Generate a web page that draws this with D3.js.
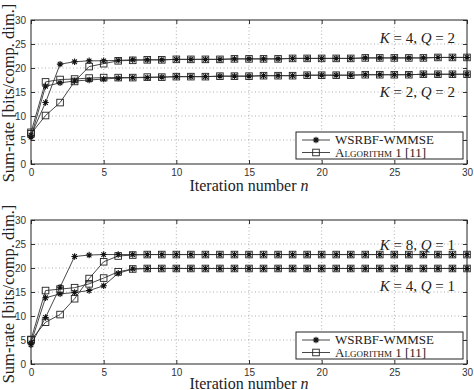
<!DOCTYPE html>
<html><head><meta charset="utf-8">
<script src="https://cdn.jsdelivr.net/npm/d3@7"></script>
<style>body{margin:0;background:#fff}svg{display:block}</style>
</head><body>
<script>
const iterations = d3.range(0, 31);
const xTicks = [0,5,10,15,20,25,30];
const yTicks = [0,5,10,15,20,25,30];
const seriesNames = ["WSRBF-WMMSE", "Algorithm 1 [11]"];
// Top panel
const topUpperWSRBF = [6.0,12.8,20.8,21.3,21.5,21.5,21.6,21.7,21.7,21.7,21.8,21.8,21.8,21.8,21.9,21.9,21.9,21.9,22.0,22.0,22.0,22.0,22.0,22.1,22.1,22.1,22.1,22.1,22.2,22.2,22.2];
const topUpperAlg1  = [6.3,10.1,12.8,17.2,20.3,20.9,21.5,21.6,21.7,21.7,21.8,21.8,21.8,21.8,21.9,21.9,21.9,21.9,22.0,22.0,22.0,22.0,22.0,22.1,22.1,22.1,22.1,22.1,22.2,22.2,22.2];
const topLowerWSRBF = [5.6,16.2,16.9,17.3,17.5,17.7,17.9,18.0,18.0,18.1,18.2,18.2,18.2,18.3,18.3,18.3,18.4,18.4,18.4,18.5,18.5,18.5,18.5,18.6,18.6,18.6,18.6,18.7,18.7,18.7,18.7];
const topLowerAlg1  = [6.6,17.1,17.6,17.7,17.9,18.0,18.0,18.0,18.1,18.1,18.2,18.2,18.2,18.3,18.3,18.3,18.4,18.4,18.4,18.5,18.5,18.5,18.5,18.6,18.6,18.6,18.6,18.7,18.7,18.7,18.7];
// Bottom panel
const botUpperWSRBF = [4.0,9.7,16.0,22.4,22.7,22.8,22.8,22.8,22.8,22.8,22.8,22.8,22.8,22.8,22.8,22.8,22.8,22.8,22.8,22.8,22.8,22.8,22.8,22.8,22.8,22.8,22.8,22.8,22.8,22.8,22.8];
const botUpperAlg1  = [5.0,8.7,10.3,13.6,17.8,21.3,22.5,22.7,22.8,22.8,22.8,22.8,22.8,22.8,22.8,22.8,22.8,22.8,22.8,22.8,22.8,22.8,22.8,22.8,22.8,22.8,22.8,22.8,22.8,22.8,22.8];
const botLowerWSRBF = [4.4,13.8,14.6,14.9,15.3,16.3,18.9,19.8,19.9,19.9,19.9,19.9,19.9,19.9,19.9,19.9,19.9,19.9,19.9,19.9,19.9,19.9,19.9,19.9,19.9,19.9,19.9,19.9,19.9,19.9,19.9];
const botLowerAlg1  = [5.1,15.3,15.6,15.9,16.7,17.9,19.2,19.8,19.9,19.9,19.9,19.9,19.9,19.9,19.9,19.9,19.9,19.9,19.9,19.9,19.9,19.9,19.9,19.9,19.9,19.9,19.9,19.9,19.9,19.9,19.9];
const topLabels = [["K","4","Q","2"],["K","2","Q","2"]];
const botLabels = [["K","8","Q","1"],["K","4","Q","1"]];

const W = 474, H = 390;
const svg = d3.select("body").append("svg").attr("width", W).attr("height", H);
const x = d3.scaleLinear().domain([0,30]).range([31,467]);
const serif = "Liberation Serif, Times New Roman, serif";
const sans = "Liberation Sans, Arial, sans-serif";

function starPath(r) {
  let p = "";
  for (let i = 0; i < 4; i++) {
    const a = i * Math.PI / 4;
    const dx = r * Math.cos(a), dy = r * Math.sin(a);
    p += `M${-dx},${-dy}L${dx},${dy}`;
  }
  return p;
}

function drawMarker(g, type, cx, cy) {
  if (type === "star") {
    g.append("path").attr("d", starPath(3.2)).attr("transform", `translate(${cx},${cy})`)
      .attr("stroke", "#111").attr("stroke-width", 1.1).attr("fill", "none");
  } else {
    g.append("rect").attr("x", cx - 3.3).attr("y", cy - 3.3).attr("width", 6.6).attr("height", 6.6)
      .attr("fill", "none").attr("stroke", "#222").attr("stroke-width", 0.9);
  }
}

function panel(y0, y1, series, labels, labelYs, titleDy, yTitleCenter) {
  const y = d3.scaleLinear().domain([0,30]).range([y1, y0]);
  const g = svg.append("g");
  // grid
  xTicks.slice(1, -1).forEach(t => g.append("line").attr("x1", x(t)).attr("x2", x(t)).attr("y1", y0).attr("y2", y1)
    .attr("stroke", "#999").attr("stroke-width", 0.8).attr("stroke-dasharray", "1,2.5"));
  yTicks.slice(1, -1).forEach(t => g.append("line").attr("x1", x.range()[0]).attr("x2", x.range()[1]).attr("y1", y(t)).attr("y2", y(t))
    .attr("stroke", "#999").attr("stroke-width", 0.8).attr("stroke-dasharray", "1,2.5"));
  // axes
  const ax = g.append("g").attr("transform", `translate(0,${y1})`)
    .call(d3.axisBottom(x).tickValues(xTicks).tickSizeInner(-4).tickSizeOuter(0).tickPadding(5));
  const axT = g.append("g").attr("transform", `translate(0,${y0})`)
    .call(d3.axisTop(x).tickValues(xTicks).tickSizeInner(-4).tickSizeOuter(0).tickFormat(""));
  const ay = g.append("g").attr("transform", `translate(${x.range()[0]},0)`)
    .call(d3.axisLeft(y).tickValues(yTicks).tickSizeInner(-4).tickSizeOuter(0).tickPadding(5));
  const ayR = g.append("g").attr("transform", `translate(${x.range()[1]},0)`)
    .call(d3.axisRight(y).tickValues(yTicks).tickSizeInner(-4).tickSizeOuter(0).tickFormat(""));
  [ax, axT, ay, ayR].forEach(a => {
    a.select(".domain").remove();
    a.selectAll("line").attr("stroke", "#333");
    a.selectAll("text").attr("font-family", sans).attr("font-size", 10).attr("fill", "#333");
  });
  // frame
  g.append("rect").attr("x", x.range()[0]).attr("y", y0).attr("width", x.range()[1] - x.range()[0]).attr("height", y1 - y0)
    .attr("fill", "none").attr("stroke", "#222").attr("stroke-width", 1);
  // series
  const line = d3.line().x((d, i) => x(iterations[i])).y(d => y(d));
  series.forEach(s => {
    g.append("path").datum(s.values).attr("d", line).attr("fill", "none").attr("stroke", "#333").attr("stroke-width", 0.9);
  });
  series.forEach(s => {
    s.values.forEach((v, i) => drawMarker(g, s.type, x(iterations[i]), y(v)));
  });
  // K/Q labels
  labels.forEach((l, k) => {
    const t = g.append("text").attr("x", 455).attr("y", labelYs[k]).attr("text-anchor", "end")
      .attr("font-family", serif).attr("font-size", 15).attr("fill", "#222");
    t.append("tspan").attr("font-style", "italic").text(l[0]);
    t.append("tspan").text(" = " + l[1] + ", ");
    t.append("tspan").attr("font-style", "italic").text(l[2]);
    t.append("tspan").text(" = " + l[3]);
  });
  // legend
  const ly = y1 - 32;
  g.append("rect").attr("x", 296).attr("y", ly).attr("width", 167).attr("height", 27)
    .attr("fill", "#fff").attr("stroke", "#222").attr("stroke-width", 1);
  const types = ["star", "square"];
  seriesNames.forEach((n, i) => {
    const yy = ly + 8 + i * 12.5;
    g.append("line").attr("x1", 302).attr("x2", 330).attr("y1", yy).attr("y2", yy).attr("stroke", "#333").attr("stroke-width", 0.9);
    drawMarker(g, types[i], 316, yy);
    g.append("text").attr("x", 335).attr("y", yy + 4.3).attr("font-family", serif).attr("font-size", 13)
      .attr("fill", "#222").attr("font-variant", i === 1 ? "small-caps" : "normal").text(n);
  });
  // x title
  const xt = g.append("text").attr("x", 249).attr("y", y1 + titleDy).attr("text-anchor", "middle")
    .attr("font-family", serif).attr("font-size", 16).attr("fill", "#222");
  xt.append("tspan").text("Iteration number ");
  xt.append("tspan").attr("font-style", "italic").text("n");
  // y title
  svg.append("text").attr("transform", `translate(14,${yTitleCenter}) rotate(-90)`).attr("text-anchor", "middle")
    .attr("font-family", serif).attr("font-size", 16.5).attr("fill", "#222").text("Sum-rate [bits/comp. dim.]");
}

panel(20, 164, [
  {values: topUpperWSRBF, type: "star"},
  {values: topUpperAlg1, type: "square"},
  {values: topLowerWSRBF, type: "star"},
  {values: topLowerAlg1, type: "square"}
], topLabels, [43, 97], 27, 93);

panel(220, 364, [
  {values: botUpperWSRBF, type: "star"},
  {values: botUpperAlg1, type: "square"},
  {values: botLowerWSRBF, type: "star"},
  {values: botLowerAlg1, type: "square"}
], botLabels, [250, 291], 25, 294);
</script>
</body></html>
